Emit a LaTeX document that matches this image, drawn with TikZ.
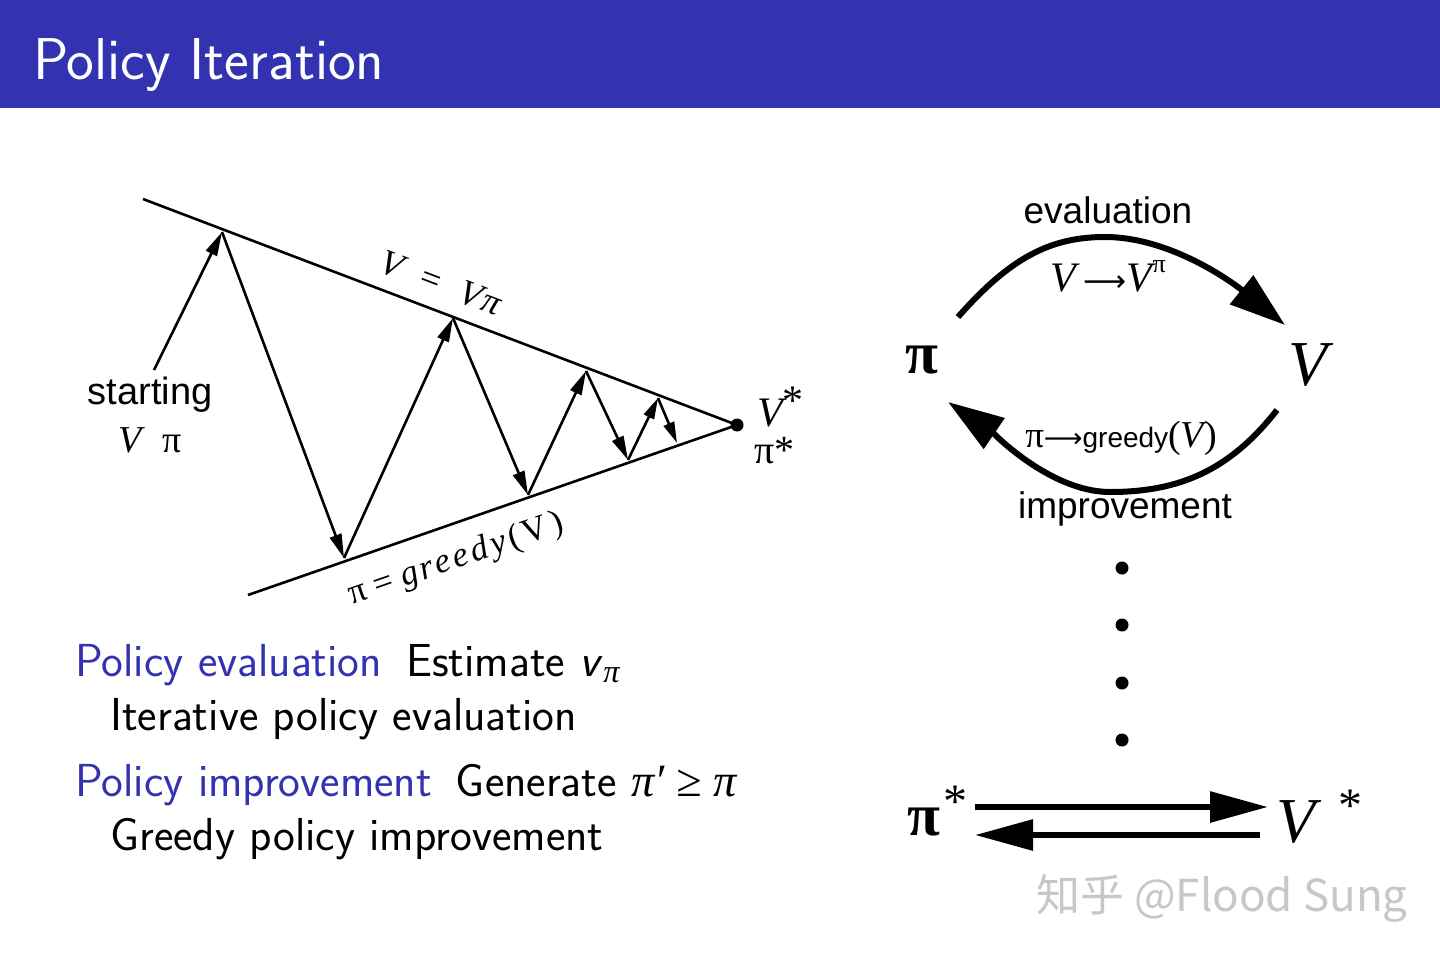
\documentclass[tikz,border=0pt]{standalone}
\usepackage{fontspec}
\newfontfamily\hel{Liberation Sans}
\newfontfamily\tim{Liberation Serif}
\newfontfamily\djv{DejaVu Sans}
\newfontfamily\cjk{Noto Sans CJK SC}
\usetikzlibrary{arrows.meta}
\definecolor{beamerblue}{RGB}{51,51,178}
\tikzset{
  thinarrow/.style={line width=2.6pt,-{Triangle[length=24pt,width=12pt]}},
  guideline/.style={line width=2.6pt},
  fatarc/.style={line width=6pt,-{Triangle[length=56pt,width=36pt]}},
  fatstraight/.style={line width=6pt,-{Triangle[length=58pt,width=30pt]}},
  lbl/.style={inner sep=0pt,outer sep=0pt},
  bodytext/.style={inner sep=0pt,anchor=base west,font=\fontsize{46.3}{55}\selectfont\sffamily},
}
\begin{document}
\begin{tikzpicture}[x=1pt,y=-1pt]
\useasboundingbox (0,0) rectangle (1440,963);
\fill[white] (0,0) rectangle (1440,963);
% title bar
\fill[beamerblue] (0,0) rectangle (1440,108);
\node[lbl,anchor=base west,text=white,font=\fontsize{59}{70}\selectfont\sffamily] (title) at (33,80) {Policy Iteration};

% ---- left figure ----
\coordinate (L0) at (143,199);
\coordinate (L1) at (248,595);
\coordinate (E) at (737,425);
\coordinate (S) at (154,370);
\coordinate (T1) at (222,232);
\coordinate (B1) at (344,558);
\coordinate (T2) at (453,318);
\coordinate (B2) at (528,495);
\coordinate (T3) at (586,371);
\coordinate (B3) at (628,460);
\coordinate (T4) at (658,398);
\coordinate (B4) at (677,443);
\draw[guideline] (L0) -- (E);
\draw[guideline] (L1) -- (E);
\fill (E) circle (6.5);
\draw[thinarrow] (S) -- (T1);
\draw[thinarrow] (T1) -- (B1);
\draw[thinarrow] (B1) -- (T2);
\draw[thinarrow] (T2) -- (B2);
\draw[thinarrow] (B2) -- (T3);
\draw[thinarrow] (T3) -- (B3);
\draw[thinarrow,-{Triangle[length=21pt,width=11pt]}] (B3) -- (T4);
\draw[thinarrow,-{Triangle[length=21pt,width=11pt]}] (T4) -- (B4);

\node[lbl,rotate=-20.8,font=\fontsize{36}{40}\selectfont\tim\itshape] (topl) at (441,283) {V \;=\; V\kern3pt π};
\node[lbl,rotate=19.2,font=\fontsize{35}{40}\selectfont\tim] (botl) at (456,560) {π = \addfontfeature{LetterSpace=10}\itshape greedy\/\upshape(V)};
\node[lbl,font=\fontsize{38}{44}\selectfont\hel] (start) at (150,395) {starting};
\node[lbl,font=\fontsize{38}{44}\selectfont\tim] (startvp) at (150,440) {\itshape V\upshape\hspace{20pt}π};
\node[lbl,anchor=west,font=\fontsize{42}{48}\selectfont\tim] (vstar) at (757,407) {\itshape V\upshape\raisebox{0.3em}{*}};
\node[lbl,anchor=west,font=\fontsize{40}{46}\selectfont\tim] (pistar) at (754,451) {π*};

% ---- right figure ----
\node[lbl,font=\fontsize{37}{44}\selectfont\hel] (eval) at (1108,210) {evaluation};
\node[lbl,font=\fontsize{42}{48}\selectfont\tim] (vtov) at (1108,276) {\itshape V\upshape\hspace{8pt}{\djv\fontsize{30}{34}\selectfont ⟶}\itshape V\upshape\raisebox{0.45em}{\fontsize{26}{30}\selectfont π}};
\node[lbl,font=\bfseries\fontsize{60}{70}\selectfont\tim] (PI) at (922,360) {π};
\node[lbl,font=\fontsize{64}{72}\selectfont\tim\itshape] (VV) at (1308,365) {V};
\node[lbl,font=\fontsize{37}{44}\selectfont\tim] (greedy) at (1121,438) {π{\djv\fontsize{27}{32}\selectfont ⟶}{\hel\fontsize{28}{32}\selectfont greedy}{\fontsize{38}{44}\selectfont(\itshape V\upshape)}};
\node[lbl,font=\fontsize{37}{44}\selectfont\hel] (impr) at (1125,509) {improvement};

\coordinate (a0) at (958,317);
\coordinate (a1) at (1105,237);
\coordinate (a2) at (1285,325);
\draw[fatarc] (a0) .. controls (1010,258) and (1050,237) .. (a1) .. controls (1170,237) and (1232,282) .. (a2);
\coordinate (b0) at (1277,410);
\coordinate (b1) at (1110,492);
\coordinate (b2) at (948,402);
\draw[fatarc] (b0) .. controls (1230,470) and (1180,492) .. (b1) .. controls (1050,492) and (992,432) .. (b2);

\fill (1122,568) circle (6.5);
\fill (1122,625) circle (6.5);
\fill (1122,683) circle (6.5);
\fill (1122,740) circle (6.5);

\node[lbl,anchor=east,font=\bfseries\fontsize{60}{70}\selectfont\tim] (pis) at (940,822) {π};
\node[lbl,font=\fontsize{48}{54}\selectfont\tim] (pisst) at (955,802) {*};
\node[lbl,anchor=west,font=\fontsize{64}{72}\selectfont\tim\itshape] (vs) at (1276,822) {V};
\node[lbl,font=\fontsize{48}{54}\selectfont\tim] (vsst) at (1350,806) {*};
\coordinate (c0) at (975,807);
\coordinate (c1) at (1268,807);
\coordinate (d0) at (1260,835);
\coordinate (d1) at (975,835);
\draw[fatstraight] (c0) -- (c1);
\draw[fatstraight] (d0) -- (d1);

% ---- text ----
\node[bodytext] (pe) at (75,676) {\textcolor{beamerblue}{Policy evaluation}\hspace{24pt}Estimate \textit{v}\textsubscript{\tim\itshape π}};
\node[bodytext] (ipe) at (110,730) {Iterative policy evaluation};
\node[bodytext] (pim) at (75,796) {\textcolor{beamerblue}{Policy improvement}\hspace{24pt}Generate {\tim\itshape π′ ≥ π}};
\node[bodytext] (gpi) at (110,850) {Greedy policy improvement};

% watermark
\node[lbl,text=black!22,font=\fontsize{44}{50}\selectfont\cjk] (wm) at (1222,898) {知乎 @Flood Sung};
\end{tikzpicture}
\end{document}
